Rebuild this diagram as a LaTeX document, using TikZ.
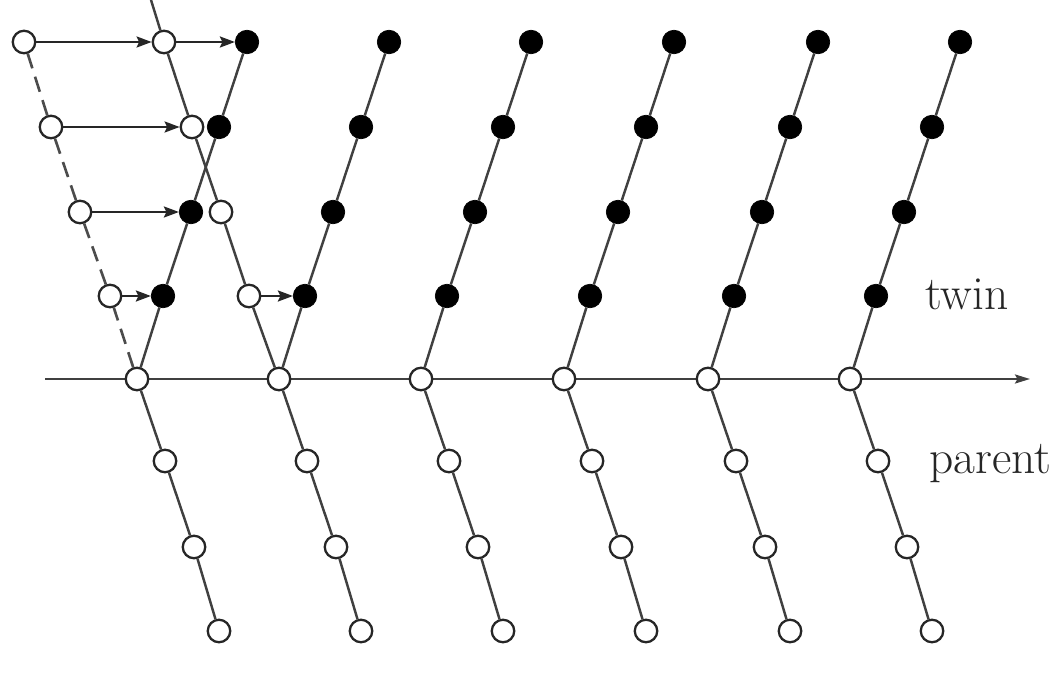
\documentclass[tikz,border=0pt]{standalone}
\usetikzlibrary{arrows.meta}
\begin{document}
\begin{tikzpicture}[x=0.02cm,y=-0.02cm,
  open/.style={circle,draw=black!85,line width=1.3pt,fill=white,minimum size=0.45cm,inner sep=0pt},
  full/.style={circle,draw=black,fill=black,minimum size=0.47cm,inner sep=0pt},
  link/.style={draw=black!75,line width=1.4pt},
  dlink/.style={draw=black!70,line width=1.5pt,dash pattern=on 9pt off 5pt},
  push/.style={draw=black!85,line width=1.4pt,-{Stealth[length=0.3cm,width=0.22cm,inset=0.05cm]}},
  lbl/.style={font=\fontsize{27}{32}\selectfont,inner sep=0pt,text=black!85}]
\useasboundingbox (0,0) rectangle (1054,682);
% axis
\coordinate (axL) at (45,379);
\coordinate (axR) at (1030,379);
\draw[link,-{Stealth[length=0.3cm,width=0.18cm,inset=0.05cm]}] (axL) -- (axR);
% axis nodes
\foreach \i/\x in {1/137,2/279,3/421,4/564,5/708,6/850}{
  \node[open] (a\i) at (\x,379) {};
}
% parent chains
\foreach \i/\x in {1/137,2/279,3/421,4/564,5/708,6/850}{
  \node[open] (p\i1) at (\x+28,461) {};
  \node[open] (p\i2) at (\x+57,547) {};
  \node[open] (p\i3) at (\x+82,631) {};
  \draw[link] (a\i) -- (p\i1) -- (p\i2) -- (p\i3);
}
% twin chains
\foreach \i/\x in {1/137,2/279,3/421,4/564,5/708,6/850}{
  \node[full] (t\i1) at (\x+26,296) {};
  \node[full] (t\i2) at (\x+54,212) {};
  \node[full] (t\i3) at (\x+82,127) {};
  \node[full] (t\i4) at (\x+110,42) {};
  \draw[link] (a\i) -- (t\i1) -- (t\i2) -- (t\i3) -- (t\i4);
}
% open chain rising from a2
\node[open] (u1) at (249,296) {};
\node[open] (u2) at (221,212) {};
\node[open] (u3) at (192,127) {};
\node[open] (u4) at (164,42) {};
\coordinate (top) at (151,0);
\draw[link] (a2) -- (u1) -- (u2) -- (u3) -- (u4) -- (top);
% dashed chain rising from a1
\node[open] (d1) at (110,296) {};
\node[open] (d2) at (80,212) {};
\node[open] (d3) at (51,127) {};
\node[open] (d4) at (24,42) {};
\draw[dlink] (a1) -- (d1) -- (d2) -- (d3) -- (d4);
% arrows
\draw[push] (d4) -- (u4);
\draw[push] (u4) -- (t14);
\draw[push] (d3) -- (u3);
\draw[push] (d2) -- (t12);
\draw[push] (d1) -- (t11);
\draw[push] (u1) -- (t21);
% labels
\node[lbl,anchor=base west] (twin) at (925,309) {twin};
\node[lbl,anchor=base west] (parent) at (929,473) {parent};
\end{tikzpicture}
\end{document}
